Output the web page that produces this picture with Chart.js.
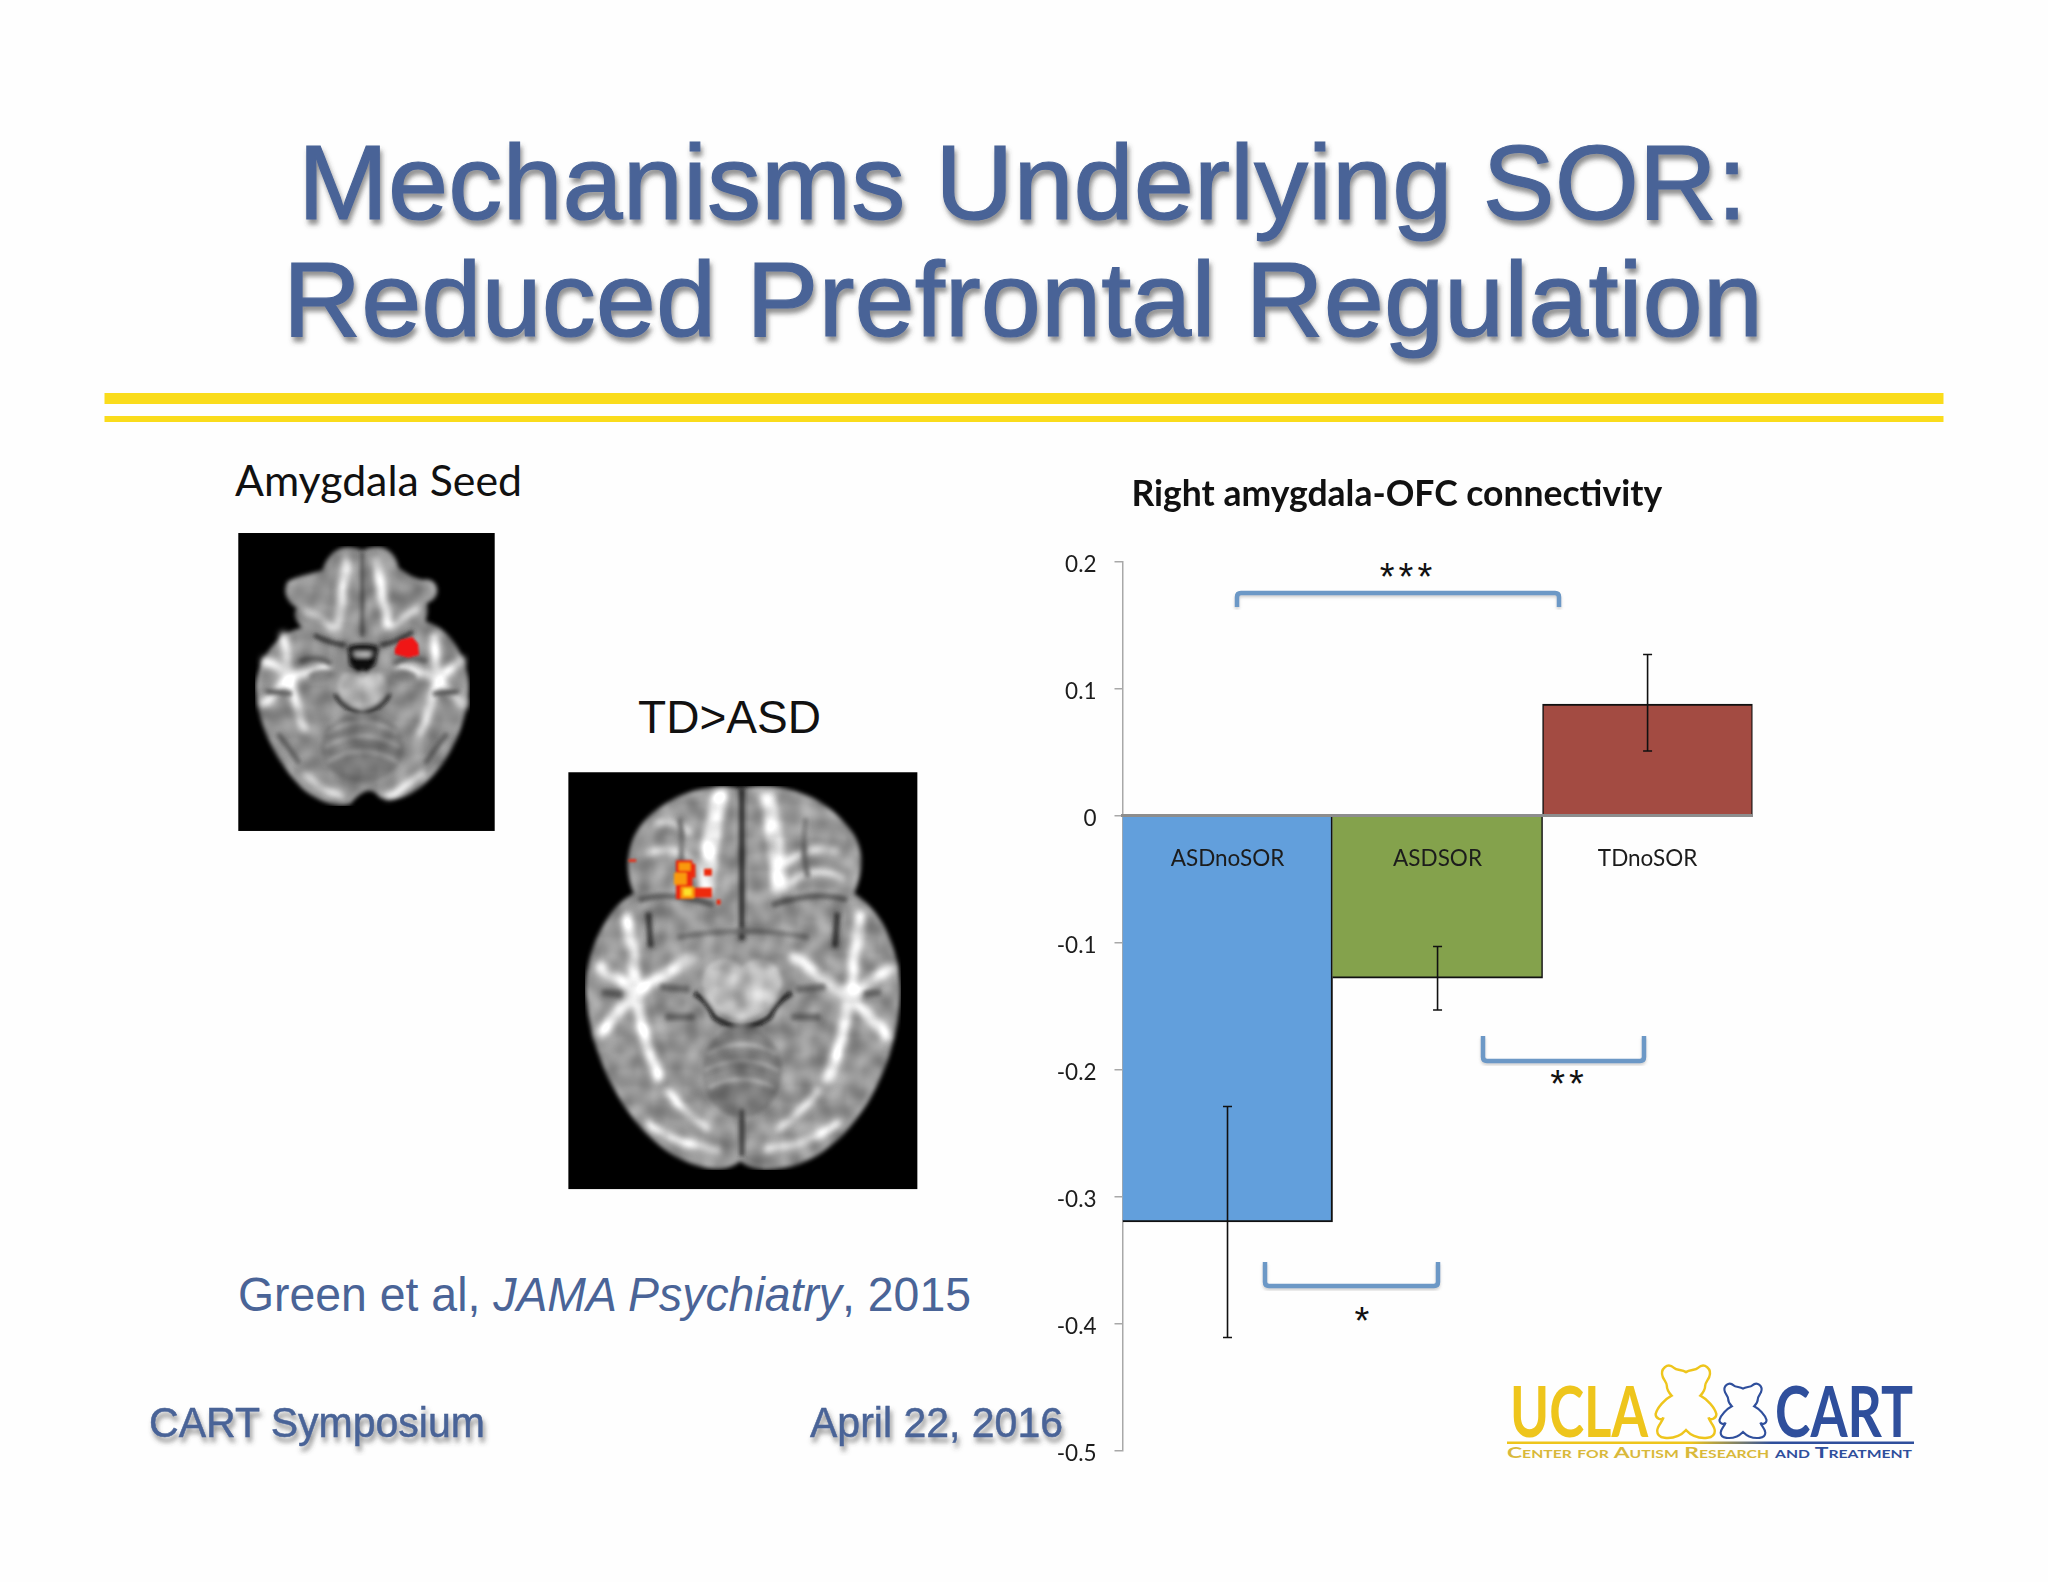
<!DOCTYPE html>
<html>
<head>
<meta charset="utf-8">
<title>Right amygdala-OFC connectivity</title>
<script src="https://cdn.jsdelivr.net/npm/chart.js@4"></script>
<style>
  html, body { margin: 0; padding: 0; background: #fefefe; }
  #slide { position: relative; width: 2048px; height: 1582px; overflow: hidden; }
  #art { position: absolute; left: 0; top: 0; }
  #myChart { position: absolute; left: 1041px; top: 460px; }
  .head { font-family: "Liberation Sans"; fill: #4a6497; stroke: #4a6497; stroke-width: 1.2; filter: url(#txtShadow); }
  .foot { font-family: "Liberation Sans"; fill: #4a6497; stroke: #4a6497; stroke-width: 0.5; filter: url(#txtShadow); }
  .cite { font-family: "Liberation Sans"; fill: #4a6497; }
  .lato { font-family: Lato; fill: #111; }
  .star { font-family: "Liberation Sans"; font-size: 38px; fill: #111; text-anchor: middle; }
  .bracket { fill: none; stroke: #6c98c6; stroke-width: 4.5; stroke-linejoin: round; filter: url(#softShadow); }
</style>
</head>
<body>
<div id="slide">
<svg id="art" width="2048" height="1582" viewBox="0 0 2048 1582" xmlns="http://www.w3.org/2000/svg">
  <defs>
    <filter id="txtShadow" x="-5%" y="-20%" width="110%" height="140%">
      <feDropShadow dx="2" dy="5" stdDeviation="2.5" flood-color="#444" flood-opacity="0.6"/>
    </filter>
    <filter id="softShadow" x="-5%" y="-20%" width="110%" height="140%">
      <feDropShadow dx="0" dy="2" stdDeviation="1.5" flood-color="#888" flood-opacity="0.4"/>
    </filter>
    <filter id="blurA" x="-10%" y="-10%" width="120%" height="120%"><feGaussianBlur stdDeviation="7"/></filter>
    <filter id="blurB" x="-10%" y="-10%" width="120%" height="120%"><feGaussianBlur stdDeviation="4"/></filter>
    <filter id="blurC"><feGaussianBlur stdDeviation="2"/></filter>
    <!-- light MRI-like mottling for the brain pictures -->
    <filter id="mottle" x="0" y="0" width="100%" height="100%" color-interpolation-filters="sRGB">
      <feTurbulence type="fractalNoise" baseFrequency="0.03" numOctaves="1" seed="7" result="n"/>
      <feColorMatrix in="n" type="matrix" values="1 0 0 0 0  1 0 0 0 0  1 0 0 0 0  0 0 0 0 1" result="g"/>
      <feComposite in="SourceGraphic" in2="g" operator="arithmetic" k1="0.7" k2="0.65" k3="0" k4="0"/>
    </filter>
    <linearGradient id="logoRule" x1="0" x2="1" y1="0" y2="0">
      <stop offset="0.45" stop-color="#eec51c"/>
      <stop offset="0.65" stop-color="#2f4f9c"/>
    </linearGradient>
    <path id="bear" d="M0,-38 C-5,-41 -12,-40 -15,-43 C-23,-50 -33,-42 -29,-32 C-27,-28 -24,-25 -24,-22 C-24,-16 -20,-12 -18,-10 C-26,-6 -36,4 -38,12 C-38,18 -30,20 -28,16 C-30,22 -36,26 -36,32 C-36,42 -20,42 -10,38 C-5,36 -2,33 0,31 C2,33 5,36 10,38 C20,42 36,42 36,32 C36,26 30,22 28,16 C30,20 38,18 38,12 C36,4 26,-6 18,-10 C20,-12 24,-16 24,-22 C24,-25 27,-28 29,-32 C33,-42 23,-50 15,-43 C12,-40 5,-41 0,-38 Z"/>
  </defs>

  <!-- heading -->
  <text class="head" x="298" y="219" font-size="106" textLength="1449" lengthAdjust="spacingAndGlyphs">Mechanisms Underlying SOR:</text>
  <text class="head" x="283" y="336" font-size="106" textLength="1480" lengthAdjust="spacingAndGlyphs">Reduced Prefrontal Regulation</text>
  <rect x="104.5" y="393" width="1839" height="11" fill="#fadc1c"/>
  <rect x="104.5" y="416" width="1839" height="6" fill="#fadc1c"/>

  <!-- left column labels -->
  <text class="lato" x="235" y="496" font-size="42" textLength="287" lengthAdjust="spacingAndGlyphs">Amygdala Seed</text>
  <text x="638" y="733" font-family="Liberation Sans" font-size="47" fill="#111" textLength="183" lengthAdjust="spacingAndGlyphs">TD&gt;ASD</text>

  <!-- brain pictures -->
  <g transform="translate(200 440) scale(0.4847 0.4974)">
    <rect x="79" y="187" width="529" height="599" fill="#000"/>
    <clipPath id="clipA"><rect x="79" y="187" width="529" height="599"/></clipPath>
    <g clip-path="url(#clipA)">
      <g filter="url(#mottle)">
      <path filter="url(#blurB)" fill="#909090" d="M335,222 C300,208 270,215 252,262 C225,270 205,272 180,285 C168,310 185,330 200,338 C190,350 200,365 210,378 C165,385 125,430 115,490 C115,560 150,640 210,700 C240,725 280,740 310,732 C325,715 350,690 370,718 C400,730 440,715 470,685 C520,640 555,560 555,490 C550,430 510,375 465,365 C470,350 470,340 468,328 C498,320 495,285 470,280 C450,285 430,270 410,258 C400,212 370,208 335,222 Z"/>
      <g filter="url(#blurA)" fill="none" stroke="#f4f4f4" stroke-linecap="round">
        <path stroke-width="18" d="M302,245 Q292,310 285,372"/>
        <path stroke-width="18" d="M362,245 Q375,310 388,372"/>
        <path stroke-width="9" d="M215,345 Q245,350 272,378 M450,340 Q420,350 398,378"/>
        <path stroke-width="17" d="M185,475 Q160,450 135,445 M185,475 Q178,430 172,395 M185,475 Q225,465 262,455 M185,475 Q195,525 215,580 M185,475 Q155,510 130,530"/>
        <path stroke-width="17" d="M490,480 Q515,455 540,445 M490,480 Q488,430 482,395 M490,480 Q450,470 415,455 M490,480 Q480,530 455,585 M490,480 Q520,515 545,530"/>
        <path stroke-width="12" d="M215,670 Q250,705 292,718 M458,668 Q420,705 388,715"/>
      </g>
      <g filter="url(#blurB)">
        <path fill="none" stroke="#3a3a3a" stroke-width="6" d="M335,225 L335,395"/>
        <path fill="none" stroke="#2e2e2e" stroke-width="9" d="M235,392 Q270,410 300,412 M440,385 Q400,410 372,412"/>
        <path fill="#0e0e0e" d="M305,415 Q335,405 368,415 L362,450 L345,470 L335,462 L325,470 L308,450 Z"/>
        <path fill="none" stroke="#111" stroke-width="9" d="M280,510 Q295,540 335,548 Q375,540 390,510"/>
        <path fill="#b2b2b2" d="M335,478 C360,455 390,470 386,500 C382,525 355,540 335,540 C315,540 288,525 284,500 C280,470 310,455 335,478 Z"/>
        <path fill="#c0c0c0" d="M316,426 L356,426 L350,436 L322,436 Z"/>
        <ellipse cx="335" cy="618" rx="85" ry="70" fill="#787878"/>
        <path fill="none" stroke="#a0a0a0" stroke-width="5" d="M262,590 Q335,545 408,590 M258,618 Q335,572 412,618 M262,648 Q335,602 408,648"/>
        <path fill="none" stroke="#5a5a5a" stroke-width="10" d="M205,445 Q240,430 272,450 M468,445 Q430,430 398,450 M135,505 L190,510 M535,505 L480,510 M160,590 Q185,620 205,650 M510,590 Q485,620 465,650"/>
        <path fill="#7c7c7c" d="M225,470 Q255,455 280,470 Q262,490 225,485 Z M445,470 Q415,455 392,470 Q410,490 445,485 Z"/>
      </g>
      </g>
      <path filter="url(#blurC)" fill="#f01212" d="M402,420 L412,402 L438,396 L450,410 L452,432 L430,438 L402,430 Z"/>
    </g>
  </g>
  <g transform="translate(200 440) scale(0.4847 0.4974)">
    <rect x="760" y="668" width="720" height="838" fill="#000"/>
    <clipPath id="clipB"><rect x="760" y="668" width="720" height="838"/></clipPath>
    <g clip-path="url(#clipB)">
      <g filter="url(#mottle)">
      <path filter="url(#blurB)" fill="#969696" d="M1115,700 C1040,685 950,720 905,780 C880,820 875,870 895,912 C850,930 800,1010 795,1100 C800,1220 860,1350 950,1420 C1010,1465 1080,1480 1115,1450 C1150,1480 1240,1470 1300,1420 C1390,1350 1445,1220 1445,1100 C1440,1010 1400,940 1350,912 C1372,860 1372,810 1330,770 C1280,710 1190,685 1115,700 Z"/>
      <g filter="url(#blurA)" fill="none" stroke="#f6f6f6" stroke-linecap="round">
        <path stroke-width="34" d="M1072,720 Q1050,810 1045,900"/>
        <path stroke-width="32" d="M1172,720 Q1190,810 1195,900"/>
        <path stroke-width="11" d="M1200,860 Q1250,810 1315,825 M1220,890 Q1270,850 1325,880 M1035,860 Q980,810 925,830 M1010,790 Q980,765 945,770"/>
        <path stroke-width="22" d="M900,1110 Q860,1080 825,1060 M900,1110 Q895,1030 880,960 M900,1110 Q960,1075 1015,1040 M900,1110 Q910,1190 945,1280 M900,1110 Q860,1150 825,1195"/>
        <path stroke-width="22" d="M1340,1120 Q1385,1085 1425,1060 M1340,1120 Q1350,1040 1362,960 M1340,1120 Q1280,1075 1225,1040 M1340,1120 Q1330,1200 1295,1285 M1340,1120 Q1380,1155 1415,1195"/>
        <path stroke-width="13" d="M925,1375 Q990,1420 1070,1425 M1315,1375 Q1250,1420 1170,1425 M965,1310 Q1000,1350 1045,1385 M1275,1310 Q1240,1350 1195,1385"/>
      </g>
      <g filter="url(#blurB)">
        <path fill="none" stroke="#262626" stroke-width="11" d="M1118,700 L1118,1005"/>
        <path fill="none" stroke="#555" stroke-width="12" d="M905,925 Q970,905 1060,935 M1335,925 Q1270,905 1180,935"/>
        <path fill="none" stroke="#333" stroke-width="12" d="M925,950 L930,1020 M1315,950 L1310,1020"/>
        <path fill="none" stroke="#6a6a6a" stroke-width="10" d="M985,1000 Q1118,975 1255,1000 M990,760 Q1000,830 985,880 M1250,760 Q1240,830 1255,880"/>
        <path fill="#bcbcbc" d="M1118,1060 C1150,1025 1205,1050 1200,1095 C1195,1135 1150,1165 1118,1165 C1086,1165 1041,1135 1036,1095 C1031,1050 1086,1025 1118,1060 Z"/>
        <path fill="none" stroke="#0c0c0c" stroke-width="9" d="M1020,1112 Q1050,1130 1060,1160 Q1118,1200 1176,1160 Q1186,1130 1220,1112"/>
        <ellipse cx="1118" cy="1270" rx="82" ry="92" fill="#7a7a7a"/>
        <path fill="none" stroke="#a4a4a4" stroke-width="6" d="M1045,1235 Q1118,1195 1190,1235 M1040,1268 Q1118,1228 1195,1268 M1050,1302 Q1118,1268 1185,1302"/>
        <path fill="none" stroke="#333" stroke-width="10" d="M1118,1345 L1118,1440"/>
        <path fill="none" stroke="#626262" stroke-width="14" d="M950,1100 L1010,1105 M1230,1105 L1290,1100 M960,1160 L1020,1160 M1220,1160 L1280,1160 M830,1110 L870,1115 M1405,1110 L1370,1115"/>
      </g>
      </g>
      <g filter="url(#blurC)">
        <g fill="#ee2a10">
          <rect x="982" y="845" width="34" height="78"/>
          <rect x="1006" y="852" width="16" height="28"/>
          <rect x="994" y="900" width="62" height="20"/>
          <rect x="1040" y="862" width="16" height="14"/>
          <rect x="1066" y="924" width="8" height="10"/>
          <rect x="884" y="843" width="16" height="5"/>
        </g>
        <g fill="#f99a10">
          <rect x="978" y="870" width="26" height="24"/>
          <rect x="988" y="850" width="24" height="16"/>
          <rect x="992" y="898" width="28" height="24"/>
        </g>
        <rect x="998" y="902" width="16" height="14" fill="#fde32a"/>
      </g>
    </g>
  </g>

  <!-- citation + footer -->
  <text class="cite" x="238" y="1311" font-size="48" textLength="733" lengthAdjust="spacingAndGlyphs">Green et al, <tspan font-style="italic">JAMA Psychiatry</tspan>, 2015</text>
  <text class="foot" x="149" y="1437" font-size="43" textLength="336" lengthAdjust="spacingAndGlyphs">CART Symposium</text>
  <text class="foot" x="810" y="1437" font-size="43" textLength="253" lengthAdjust="spacingAndGlyphs">April 22, 2016</text>

  <!-- significance brackets -->
  <path class="bracket" d="M1237,607 L1237,597 Q1237,593 1241,593 L1555,593 Q1559,593 1559,597 L1559,607"/>
  <path class="bracket" d="M1483,1036 L1483,1057 Q1483,1061 1487,1061 L1640,1061 Q1644,1061 1644,1057 L1644,1036"/>
  <path class="bracket" d="M1265,1262 L1265,1282 Q1265,1286 1269,1286 L1434,1286 Q1438,1286 1438,1282 L1438,1262"/>
  <text class="star" x="1408" y="590" letter-spacing="4">***</text>
  <text class="star" x="1569" y="1097" letter-spacing="4">**</text>
  <text class="star" x="1362" y="1334">*</text>

  <!-- logo -->
  <g>
    <text x="1510" y="1437" font-family="Lato" font-weight="700" font-size="70" fill="#eec51c" textLength="138" lengthAdjust="spacingAndGlyphs">UCLA</text>
    <text x="1775" y="1437" font-family="Lato" font-weight="700" font-size="70" fill="#2f4f9c" textLength="138" lengthAdjust="spacingAndGlyphs">CART</text>
    <use href="#bear" transform="translate(1686 1404) scale(0.8 0.84)" fill="none" stroke="#eec51c" stroke-width="3"/>
    <use href="#bear" transform="translate(1743 1412.5) scale(0.62 0.63)" fill="none" stroke="#2f4f9c" stroke-width="3.4"/>
    <rect x="1507" y="1441.5" width="407" height="2.5" fill="url(#logoRule)"/>
    <text x="1507" y="1458" font-family="Lato" font-weight="700" font-size="16" fill="#d9b93a" textLength="262" lengthAdjust="spacingAndGlyphs" style="font-variant: small-caps">Center for Autism Research</text>
    <text x="1775" y="1458" font-family="Lato" font-weight="700" font-size="16" fill="#2f4f9c" textLength="137" lengthAdjust="spacingAndGlyphs" style="font-variant: small-caps">and Treatment</text>
  </g>
</svg>
<canvas id="myChart" width="800" height="1022"></canvas>
</div>

<script>
/* valores */
const categories = ['ASDnoSOR', 'ASDSOR', 'TDnoSOR'];
const connectivity = [-0.32, -0.128, 0.088];
const errLow = [-0.411, -0.153, 0.051];
const errHigh = [-0.229, -0.103, 0.127];
const barColors = ['#629fdc', '#84a24c', '#a34b42'];
const yTickLabels = ['-0.5', '-0.4', '-0.3', '-0.2', '-0.1', '0', '0.1', '0.2'];

const errorBars = {
  id: 'errorBars',
  afterDatasetsDraw(chart) {
    const { ctx, scales: { y } } = chart;
    const bars = chart.getDatasetMeta(0).data;
    ctx.save();
    ctx.strokeStyle = '#111';
    ctx.lineWidth = 1.6;
    bars.forEach((bar, i) => {
      const top = y.getPixelForValue(errHigh[i]);
      const bottom = y.getPixelForValue(errLow[i]);
      ctx.beginPath();
      ctx.moveTo(bar.x, top);
      ctx.lineTo(bar.x, bottom);
      ctx.moveTo(bar.x - 4.5, top);
      ctx.lineTo(bar.x + 4.5, top);
      ctx.moveTo(bar.x - 4.5, bottom);
      ctx.lineTo(bar.x + 4.5, bottom);
      ctx.stroke();
    });
    ctx.restore();
  }
};

const config = {
  type: 'bar',
  data: {
    labels: categories,
    datasets: [{
      label: 'Right amygdala-OFC connectivity',
      data: connectivity,
      backgroundColor: barColors,
      borderColor: '#111',
      borderSkipped: false,
      borderWidth: [
        { top: 0, right: 2, bottom: 2, left: 0 },
        { top: 0, right: 1.5, bottom: 2, left: 0 },
        { top: 2, right: 1.5, bottom: 0, left: 1.5 }
      ],
      barPercentage: 1,
      categoryPercentage: 1
    }]
  },
  options: {
    responsive: false,
    animation: false,
    devicePixelRatio: 1,
    layout: { padding: { top: 0, right: 88.4, bottom: 20.2, left: 0 } },
    plugins: {
      legend: { display: false },
      tooltip: { enabled: false },
      title: {
        display: true,
        text: 'Right amygdala-OFC connectivity',
        color: '#111',
        font: { family: 'Lato', size: 35.5, weight: 'bold' },
        padding: { top: 13.6, bottom: 45.6 }
      }
    },
    scales: {
      x: {
        position: { y: 0 },
        afterFit(scale) { scale.height = 1; },
        grid: { display: false },
        border: { display: true, color: '#8d8d8d', width: 3, z: 1 },
        ticks: {
          z: 1,
          color: '#1c1c1c',
          padding: 22,
          maxRotation: 0,
          font: { family: 'Lato', size: 22.5 }
        }
      },
      y: {
        min: -0.5,
        max: 0.2,
        afterFit(scale) { scale.width = 81.5; },
        grid: { drawOnChartArea: false, drawTicks: true, tickLength: 8, color: '#a8a8a8', lineWidth: 1.5 },
        border: { display: true, color: '#a8a8a8', width: 1.5 },
        ticks: {
          stepSize: 0.1,
          padding: 18,
          labelOffset: 3,
          color: '#1c1c1c',
          font: { family: 'Lato', size: 22.5 },
          callback: (value, index) => yTickLabels[index]
        }
      }
    }
  },
  plugins: [errorBars]
};

const myChart = new Chart(document.getElementById('myChart'), config);
</script>
</body>
</html>
